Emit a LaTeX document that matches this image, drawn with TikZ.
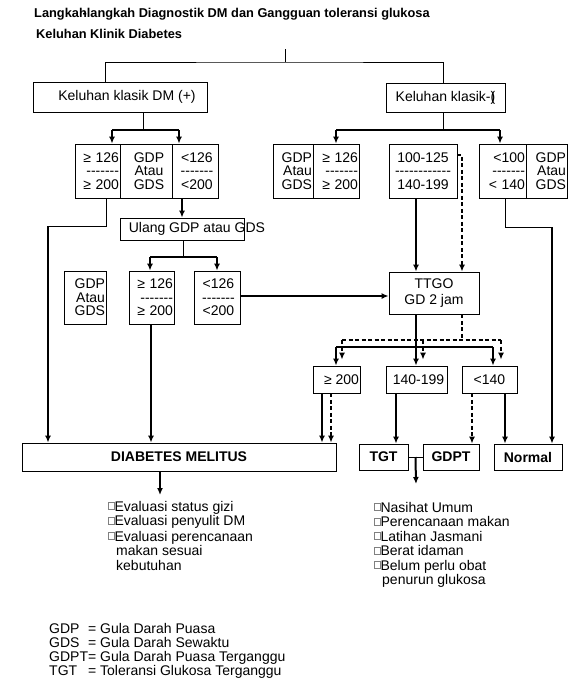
\documentclass[tikz,border=0pt]{standalone}
\usepackage{fontspec}
\setmainfont{Liberation Sans}[Ligatures=TeXOff]
\usetikzlibrary{arrows.meta, calc}
\newcommand{\kotak}{{\color{gray}\setlength{\fboxsep}{0pt}\setlength{\fboxrule}{.4pt}\raisebox{2pt}{\fbox{\rule{0pt}{6.5pt}\rule{5.5pt}{0pt}}}}}

\begin{document}
\begin{tikzpicture}[>={Latex[length=7pt,width=6pt]}, x=1pt, y=-1pt,
	box/.style={draw, line width=.8pt, inner sep=0pt, align=center, font=\fontsize{14}{13.5}\selectfont},
	rata/.style={box, align=right, inner xsep=1pt, text width=#1},
	hasil/.style={box, font=\bfseries\fontsize{14}{14}\selectfont, minimum height=26},
	judul/.style={inner sep=0pt, anchor=west, font=\bfseries\fontsize{12.8}{14}\selectfont},
	daftar/.style={inner sep=0pt, anchor=north west, align=left, font=\fontsize{14}{14.5}\selectfont},
	lin/.style={line width=.8pt},
	bar/.style={line width=2pt},
	arr/.style={->, line width=2pt},
	dlin/.style={line width=2pt, dash pattern=on 4pt off 2.5pt},
	darr/.style={->, dlin}]
%	\draw[gray!30, step=20] (0,0) grid (580,686);
	\useasboundingbox (0,0) rectangle (580,686);
	\node[judul] (langkah) at (34,14) {Langkah\llap{-}langkah Diagnostik DM dan Gangguan toleransi glukosa};
	\node[judul] (klinik) at (36,34) {Keluhan Klinik Diabetes};
	
	% keluhan
	\node[box, minimum width=174, minimum height=30] (kplus) at (120,97) {\hspace*{14pt}Keluhan klasik DM (+)};
	\node[box, minimum width=119, minimum height=29] (kmin) at (445.5,97.5) {Keluhan klasik-\rlap{(})};
	\coordinate (akar) at (285,49);
	\draw[lin] (akar) -- (285,62) coordinate (akarb);
	\draw[lin] (kplus.north -| 105,0) |- (akarb) -| (kmin.north -| 443,0);
	
	% cabang kiri
	\node[rata=43pt, minimum height=54] (c1) at (97.5,171) {≥ 126\\-------\\≥ 200};
	\node[box, minimum width=52, minimum height=54] (c2) at (146,171) {\hspace*{6pt}GDP\\\hspace*{6pt}Atau\\\hspace*{6pt}GDS};
	\node[box, minimum width=46, minimum height=54] (c3) at (195,171) {\hspace*{4pt}<126\\\hspace*{4pt}-------\\\hspace*{4pt}<200};
	\draw[lin] (kplus.south -| 143,0) -- (143,130);
	\coordinate (la) at (112,130);
	\coordinate (lb) at (179,130);
	\draw[bar] (la) -- (lb);
	\draw[arr] (la) -- (la |- c1.north);
	\draw[arr] (lb) -- (lb |- c3.north);
	
	\node[box, minimum width=124, minimum height=22] (ulang) at (182,229) {};
	\node[inner sep=0pt, anchor=west, font=\fontsize{14}{14}\selectfont] (ulangteks) at ($(ulang.west)+(9,0)$) {Ulang GDP atau GDS};
	\draw[arr] (c3.south -| 182,0) -- (ulang.north -| 182,0);
	
	\node[rata=40pt, minimum height=53] (g) at (85,297.5) {GDP\\Atau\\GDS};
	\node[rata=43pt, minimum height=53] (d1) at (151.5,297.5) {≥ 126\\-------\\≥ 200};
	\node[box, minimum width=46, minimum height=53] (d2) at (217,297.5) {\hspace*{3pt}<126\\\hspace*{3pt}-------\\\hspace*{3pt}<200};
	\draw[lin] (ulang.south -| 183,0) -- (183,257);
	\coordinate (ua) at (150,257);
	\coordinate (ub) at (217,257);
	\draw[bar] (ua) -- (ub);
	\draw[arr] (ua) -- (ua |- d1.north);
	\draw[arr] (ub) -- (ub |- d2.north);
	
	% cabang kanan
	\node[rata=38pt, minimum height=54] (r1) at (293,171) {GDP\\Atau\\GDS};
	\node[rata=44pt, minimum height=54] (r2) at (336,171) {≥ 126\\-------\\≥ 200};
	\node[box, minimum width=68, minimum height=54] (m) at (423,171) {100-125\\------------\\140-199};
	\node[rata=45pt, minimum height=54] (n1) at (502.5,171) {<100\\-------\\< 140};
	\node[rata=39pt, minimum height=54] (n2) at (546.5,171) {GDP\\Atau\\GDS};
	\draw[lin] (kmin.south -| 443,0) -- (443,130);
	\coordinate (ra) at (336,130);
	\coordinate (rb) at (500,130);
	\draw[bar] (ra) -- (rb);
	\draw[arr] (ra) -- (ra |- r2.north);
	\draw[arr] (rb) -- (rb |- n1.north);
	
	\node[box, minimum width=90, minimum height=42] (ttgo) at (434,293) {TTGO\\[3pt]GD 2 jam};
	\draw[arr] (m.south -| 416,0) -- (ttgo.north -| 416,0);
	\draw[darr] (m.east |- 0,155) -| (ttgo.north -| 462,0);
	\draw[arr] (d2.east |- 0,296) -- (ttgo.west |- 0,296);
	
	% hasil TTGO
	\node[box, minimum width=47, minimum height=27] (s1) at (336.5,379.5) {\hspace*{10pt}≥ 200};
	\node[box, minimum width=61, minimum height=27] (s2) at (416.5,379.5) {\hspace*{4pt}140-199};
	\node[box, minimum width=55, minimum height=27] (s3) at (489.5,379.5) {<140};
	\draw[arr] (ttgo.south -| 416,0) -- (s2.north -| 416,0);
	\coordinate (sa) at (336,347);
	\coordinate (sb) at (493,347);
	\draw[bar] (sa) -- (sb);
	\draw[arr] (sa) -- (sa |- s1.north);
	\draw[arr] (sb) -- (sb |- s3.north);
	\draw[dlin] (ttgo.south -| 462,0) -- (462,340);
	\coordinate (da) at (342,340);
	\coordinate (dc) at (423,340);
	\coordinate (db) at (501,340);
	\draw[dlin] (da) -- (db);
	\draw[darr, shorten >=6pt] (da) -- (da |- s1.north);
	\draw[darr, shorten >=6pt] (dc) -- (dc |- s2.north);
	\draw[darr, shorten >=6pt] (db) -- (db |- s3.north);
	
	% diagnosis
	\node[hasil, minimum width=314, minimum height=28] (dm) at (179,457) {DIABETES MELITUS};
	\node[hasil, minimum width=49] (tgt) at (383.5,457) {TGT};
	\node[hasil, minimum width=56] (gdpt) at (451,457) {GDPT};
	\node[hasil, minimum width=68] (normal) at (528,457) {Normal};
	\draw[lin] (c1.south -| 106,0) |- (48,226) coordinate (lc);
	\draw[arr] (lc) -- (lc |- dm.north);
	\draw[arr] (d1.south -| 151,0) -- (dm.north -| 151,0);
	\draw[arr] (s1.south -| 322,0) -- (dm.north -| 322,0);
	\draw[darr] (s1.south -| 331,0) -- (dm.north -| 331,0);
	\draw[arr] (s2.south -| 396,0) -- (tgt.north -| 396,0);
	\draw[darr] (s3.south -| 472,0) -- (gdpt.north -| 472,0);
	\draw[arr] (s3.south -| 505,0) -- (normal.north -| 505,0);
	\draw[lin] (n1.south -| 505,0) |- (552,227) coordinate (nc);
	\draw[arr] (nc) -- (nc |- normal.north);
	\draw[lin] (tgt.east) -- (gdpt.west);
	
	% tindak lanjut
	\node[daftar] (evaluasi) at (108,501) {\kotak Evaluasi status gizi\\\kotak Evaluasi penyulit DM\\[1pt]\kotak Evaluasi perencanaan\\\hspace*{8pt}makan sesuai\\\hspace*{8pt}kebutuhan};
	\node[daftar] (nasihat) at (374,502) {\kotak Nasihat Umum\\\kotak Perencanaan makan\\\kotak Latihan Jasmani\\\kotak Berat idaman\\\kotak Belum perlu obat\\\hspace*{8pt}penurun glukosa};
	\coordinate (evpanah) at (160,495);
	\coordinate (nspanah) at (416,484);
	\draw[arr] (dm.south -| evpanah) -- (evpanah);
	\draw[arr] ($(tgt.east)!.5!(gdpt.west)$) -- (nspanah);
	
	% singkatan
	\node[daftar, font=\fontsize{14}{13.4}\selectfont] (singkatan) at (49,623) {\begin{tabular}{@{}l@{}l@{}}
		GDP & = Gula Darah Puasa\\
		GDS & = Gula Darah Sewaktu\\
		GDPT & = Gula Darah Puasa Terganggu\\
		TGT & = Toleransi Glukosa Terganggu
	\end{tabular}};
\end{tikzpicture}
\end{document}
